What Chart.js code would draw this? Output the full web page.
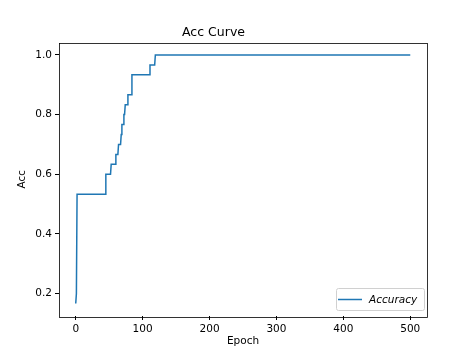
<!DOCTYPE html>
<html>
<head>
    <meta charset="utf-8">
    <title>Acc Curve</title>
    <style>
        html, body { margin: 0; padding: 0; background: #fff; }
        #wrap { width: 474px; height: 355px; }
    </style>
</head>
<body>
    <div id="wrap">
        <canvas id="chart" width="474" height="355"></canvas>
    </div>

    <script src="https://cdn.jsdelivr.net/npm/chart.js"></script>
    <script>
        // epochs where accuracy changes, and the value from that epoch on
        var changeEpochs = [0, 1, 2, 45, 53, 60, 64, 68, 69, 72, 74, 78, 84, 111, 119];
        var accValues = [0.1667, 0.2, 0.5333, 0.6, 0.6333, 0.6667, 0.7, 0.7333, 0.7667, 0.8, 0.8333, 0.8667, 0.9333, 0.9667, 1.0];
        var lastEpoch = 500;
        var xTicks = [0, 100, 200, 300, 400, 500];
        var yTicks = [0.2, 0.4, 0.6, 0.8, 1.0];

        // value holds until the next change
        var points = [];
        for (var i = 0; i < changeEpochs.length; i++) {
            var endEpoch = i + 1 < changeEpochs.length ? changeEpochs[i + 1] - 1 : lastEpoch;
            points.push({ x: changeEpochs[i], y: accValues[i] });
            if (endEpoch > changeEpochs[i]) points.push({ x: endEpoch, y: accValues[i] });
        }

        var font = "'DejaVu Sans', sans-serif";

        // axes frame + legend box like matplotlib
        var framePlugin = {
            id: 'frame',
            afterDraw: function (chart) {
                var c = chart.ctx, a = chart.chartArea;
                c.save();
                c.strokeStyle = '#000';
                c.lineWidth = 0.8;
                c.strokeRect(Math.round(a.left) + 0.5, Math.round(a.top) + 0.5,
                    Math.round(a.right - a.left), Math.round(a.bottom - a.top));

                // legend, lower right
                var bx = a.right - 91, by = a.bottom - 28, bw = 88, bh = 22;
                c.fillStyle = 'rgba(255,255,255,0.8)';
                c.strokeStyle = '#d0d0d0';
                c.lineWidth = 1;
                c.beginPath();
                c.roundRect(bx + 0.5, by + 0.5, bw, bh, 2);
                c.fill();
                c.stroke();
                c.strokeStyle = '#1f77b4';
                c.lineWidth = 1.5;
                c.beginPath();
                c.moveTo(bx + 2, by + 11.5);
                c.lineTo(bx + 26, by + 11.5);
                c.stroke();
                c.fillStyle = '#000';
                c.font = 'italic 10.5px ' + font;
                c.textBaseline = 'middle';
                c.fillText(chart.data.datasets[0].label, bx + 33, by + 12);
                c.restore();
            }
        };

        new Chart(document.getElementById('chart'), {
            type: 'line',
            data: {
                datasets: [{
                    label: 'Accuracy',
                    data: points,
                    borderColor: '#1f77b4',
                    borderWidth: 1.5,
                    pointRadius: 0,
                    tension: 0,
                    fill: false
                }]
            },
            options: {
                responsive: false,
                animation: false,
                layout: { padding: { left: 0, right: 47, top: 0, bottom: 0 } },
                plugins: {
                    legend: { display: false },
                    tooltip: { enabled: false },
                    title: {
                        display: true,
                        text: 'Acc Curve',
                        color: '#000',
                        font: { family: font, size: 12.5, weight: 'normal' },
                        padding: { top: 25, bottom: 2.5 }
                    }
                },
                scales: {
                    x: {
                        type: 'linear',
                        min: -25,
                        max: 525,
                        afterBuildTicks: function (s) { s.ticks = xTicks.map(function (v) { return { value: v }; }); },
                        afterFit: function (s) { s.height = 39; },
                        grid: { display: true, drawOnChartArea: false, drawTicks: true, tickLength: 4, color: '#000' },
                        border: { display: false },
                        ticks: {
                            color: '#000', padding: 3, maxRotation: 0,
                            font: { family: font, size: 10.5 },
                            callback: function (v) { return String(v); }
                        },
                        title: {
                            display: true, text: 'Epoch', color: '#000',
                            font: { family: font, size: 10.5 }, padding: 7
                        }
                    },
                    y: {
                        type: 'linear',
                        min: 0.125,
                        max: 1.0417,
                        afterBuildTicks: function (s) { s.ticks = yTicks.map(function (v) { return { value: v }; }); },
                        afterFit: function (s) { s.width = 59; },
                        grid: { display: true, drawOnChartArea: false, drawTicks: true, tickLength: 4, color: '#000' },
                        border: { display: false },
                        ticks: {
                            color: '#000', padding: 3,
                            font: { family: font, size: 10.5 },
                            callback: function (v) { return v.toFixed(1); }
                        },
                        title: {
                            display: true, text: 'Acc', color: '#000',
                            font: { family: font, size: 10.5 }, padding: 16
                        }
                    }
                }
            },
            plugins: [framePlugin]
        });
    </script>
</body>
</html>
